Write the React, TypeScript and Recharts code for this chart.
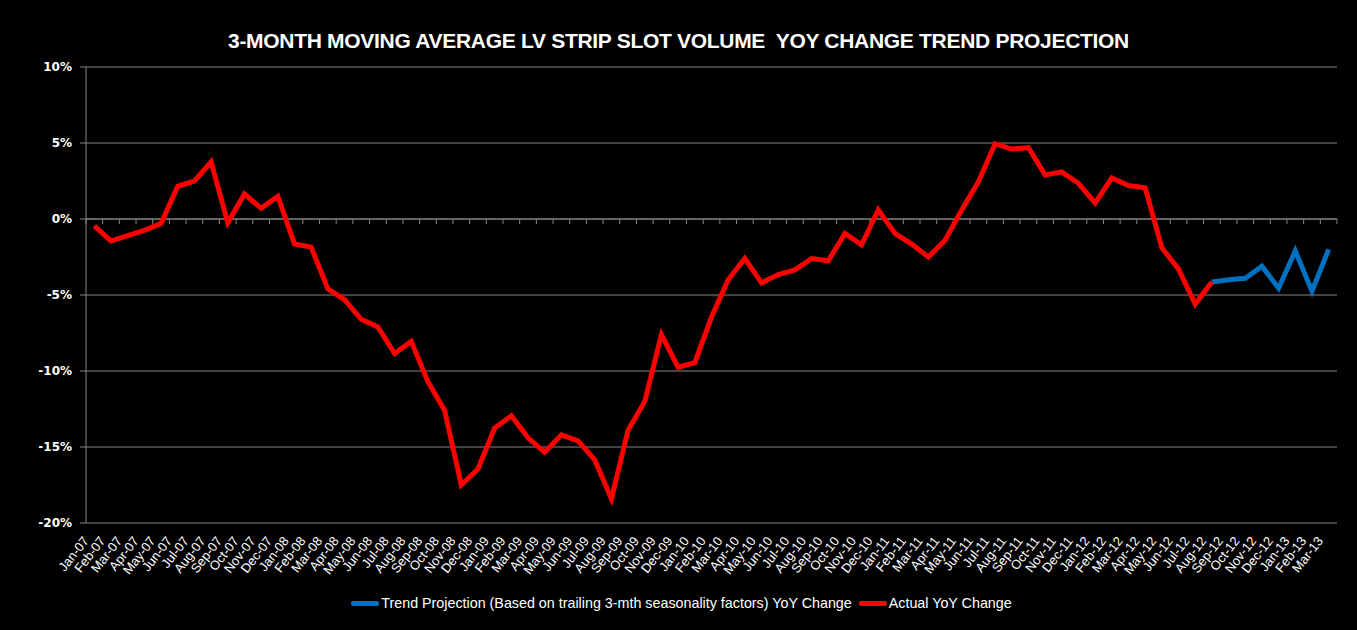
import React from "react";
import {
  LineChart,
  Line,
  XAxis,
  YAxis,
  CartesianGrid,
  ReferenceLine,
  Legend,
} from "recharts";

const months: string[] = [
  "Jan-07", "Feb-07", "Mar-07", "Apr-07", "May-07", "Jun-07", "Jul-07", "Aug-07", "Sep-07", "Oct-07", "Nov-07", "Dec-07",
  "Jan-08", "Feb-08", "Mar-08", "Apr-08", "May-08", "Jun-08", "Jul-08", "Aug-08", "Sep-08", "Oct-08", "Nov-08", "Dec-08",
  "Jan-09", "Feb-09", "Mar-09", "Apr-09", "May-09", "Jun-09", "Jul-09", "Aug-09", "Sep-09", "Oct-09", "Nov-09", "Dec-09",
  "Jan-10", "Feb-10", "Mar-10", "Apr-10", "May-10", "Jun-10", "Jul-10", "Aug-10", "Sep-10", "Oct-10", "Nov-10", "Dec-10",
  "Jan-11", "Feb-11", "Mar-11", "Apr-11", "May-11", "Jun-11", "Jul-11", "Aug-11", "Sep-11", "Oct-11", "Nov-11", "Dec-11",
  "Jan-12", "Feb-12", "Mar-12", "Apr-12", "May-12", "Jun-12", "Jul-12", "Aug-12", "Sep-12", "Oct-12", "Nov-12", "Dec-12",
  "Jan-13", "Feb-13", "Mar-13",
];

// actual YoY change (%), Jan-07 .. Aug-12
const actualYoY: number[] = [
  -0.45, -1.45, -1.1, -0.75, -0.3, 2.15, 2.5, 3.75, -0.25, 1.65, 0.7, 1.5,
  -1.65, -1.85, -4.6, -5.3, -6.6, -7.1, -8.85, -8.05, -10.7, -12.6, -17.5, -16.45,
  -13.75, -12.95, -14.4, -15.35, -14.2, -14.6, -15.85, -18.4, -13.9, -12.0, -7.6, -9.75,
  -9.45, -6.45, -4.0, -2.6, -4.2, -3.65, -3.35, -2.6, -2.75, -0.95, -1.7, 0.6,
  -0.95, -1.65, -2.5, -1.4, 0.6, 2.45, 4.95, 4.6, 4.7, 2.9, 3.1, 2.35,
  1.05, 2.7, 2.2, 2.05, -1.9, -3.3, -5.6, -4.15,
];

// projection starts from the last actual month (Aug-12) through Mar-13
const trendStart = "Aug-12";
const trendYoY: number[] = [-4.15, -4.0, -3.9, -3.1, -4.55, -2.1, -4.75, -2.0];

const yTicks: number[] = [-20, -15, -10, -5, 0, 5, 10];

const TREND_COLOR = "#0070C0";
const ACTUAL_COLOR = "#FF0000";
const GRID_COLOR = "#868686";
const FONT = "'Liberation Sans', Arial, sans-serif";

const startIdx = months.indexOf(trendStart);
const data = months.map((month, i) => ({
  month,
  actual: i < actualYoY.length ? actualYoY[i] : null,
  trend: i >= startIdx ? trendYoY[i - startIdx] : null,
}));

const MonthTick = (props: any) => {
  const { x, y, payload } = props;
  const ax = x - 5;
  const ay = y + 10;
  return (
    <text
      x={ax}
      y={ay}
      transform={`rotate(-52 ${ax} ${ay})`}
      textAnchor="end"
      fill="#fff"
      fontSize={13}
      fontFamily={FONT}
    >
      {payload.value}
    </text>
  );
};

// horizontal axis crosses at 0%, with tick marks between categories
const ZeroAxis = (props: any) => {
  const { x1, y1, x2 } = props;
  const step = (x2 - x1) / months.length;
  const marks = [];
  for (let k = 0; k <= months.length; k++) {
    const x = x1 + k * step;
    marks.push(<line key={k} x1={x} y1={y1} x2={x} y2={y1 + 5} stroke={GRID_COLOR} />);
  }
  return (
    <g>
      <line x1={x1} y1={y1} x2={x2} y2={y1} stroke={GRID_COLOR} />
      {marks}
    </g>
  );
};

const legendItems = [
  { label: "Trend Projection (Based on trailing 3-mth seasonality factors) YoY Change", color: TREND_COLOR },
  { label: "Actual YoY Change", color: ACTUAL_COLOR },
];

const ChartLegend = () => (
  <div style={{ display: "flex", justifyContent: "center", alignItems: "center", height: 24, gap: 7, paddingLeft: 18 }}>
    {legendItems.map((item) => (
      <div key={item.label} style={{ display: "flex", alignItems: "center" }}>
        <span style={{ display: "inline-block", width: 28, height: 5, borderRadius: 2, background: item.color, marginRight: 2 }} />
        <span style={{ color: "#fff", fontSize: 14.3, fontFamily: FONT }}>{item.label}</span>
      </div>
    ))}
  </div>
);

export default function App() {
  return (
    <div style={{ position: "absolute", left: 0, top: 0, width: 1357, height: 630, background: "#000" }}>
      <div
        style={{
          position: "absolute",
          top: 29,
          left: 0,
          width: 1357,
          textAlign: "center",
          color: "#fff",
          fontWeight: "bold",
          fontSize: 21,
          letterSpacing: -0.3,
          lineHeight: "24px",
          fontFamily: FONT,
        }}
      >
        3-MONTH MOVING AVERAGE LV STRIP SLOT VOLUME&nbsp; YOY CHANGE TREND PROJECTION
      </div>
      <LineChart width={1357} height={630} data={data} margin={{ top: 67, right: 20, left: 8, bottom: 15 }}>
        <CartesianGrid vertical={false} stroke={GRID_COLOR} />
        <XAxis
          dataKey="month"
          scale="band"
          interval={0}
          tickLine={false}
          axisLine={false}
          tick={<MonthTick />}
          height={68}
        />
        <YAxis
          domain={[-20, 10]}
          ticks={yTicks}
          tickFormatter={(v: number) => `${v}%`}
          width={78}
          axisLine={{ stroke: GRID_COLOR }}
          tickLine={{ stroke: GRID_COLOR }}
          tickSize={6}
          tickMargin={8}
          tick={{ fill: "#fff", fontWeight: "bold", fontSize: 12, fontFamily: "'DejaVu Sans', sans-serif" }}
        />
        <ReferenceLine y={0} shape={ZeroAxis} />
        <Legend verticalAlign="bottom" content={<ChartLegend />} />
        <Line
          type="linear"
          dataKey="trend"
          name="Trend Projection (Based on trailing 3-mth seasonality factors) YoY Change"
          stroke={TREND_COLOR}
          strokeWidth={5}
          dot={false}
          isAnimationActive={false}
        />
        <Line
          type="linear"
          dataKey="actual"
          name="Actual YoY Change"
          stroke={ACTUAL_COLOR}
          strokeWidth={5}
          dot={false}
          isAnimationActive={false}
        />
      </LineChart>
    </div>
  );
}
